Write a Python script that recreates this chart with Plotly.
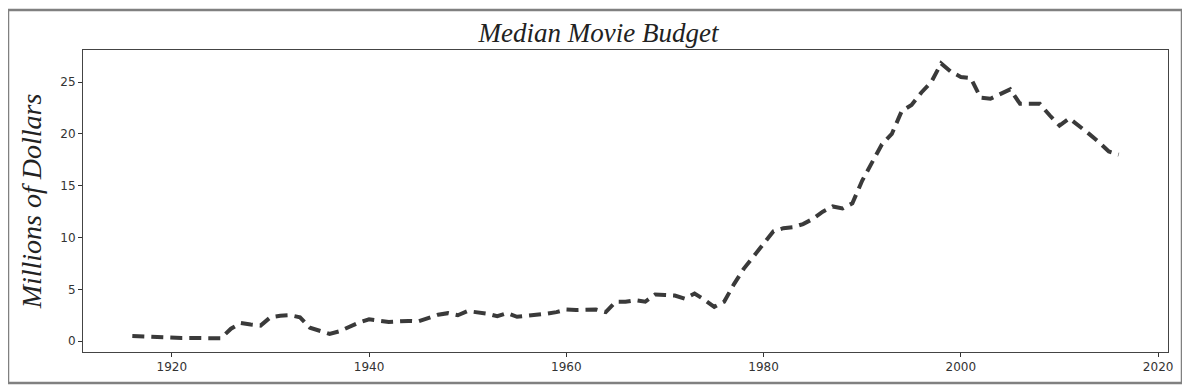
import plotly.graph_objects as go

years = list(range(1916, 2017))
median_budget = [
    0.5, 0.45, 0.38, 0.33, 0.3, 0.3, 0.3, 0.3, 0.3, 0.28,          # 1916-1925
    1.2, 1.75, 1.6, 1.5, 2.3, 2.45, 2.5, 2.3, 1.3, 1.0,            # 1926-1935
    0.7, 0.95, 1.4, 1.8, 2.1, 1.95, 1.85, 1.9, 1.95, 1.9,          # 1936-1945
    2.2, 2.55, 2.7, 2.5, 2.9, 2.8, 2.65, 2.4, 2.7, 2.35,           # 1946-1955
    2.45, 2.5, 2.65, 2.8, 3.05, 3.0, 3.0, 3.05, 2.8, 3.8,          # 1956-1965
    3.8, 3.95, 3.8, 4.5, 4.45, 4.4, 4.1, 4.6, 4.0, 3.3,            # 1966-1975
    3.8, 5.5, 7.0, 8.2, 9.5, 10.6, 10.9, 11.0, 11.3, 11.8,         # 1976-1985
    12.5, 13.0, 12.8, 13.3, 15.5, 17.3, 19.0, 20.0, 22.2, 22.8,    # 1986-1995
    24.0, 25.0, 26.8, 26.0, 25.5, 25.4, 23.5, 23.4, 23.9, 24.3,    # 1996-2005
    22.9, 22.9, 22.9, 21.8, 20.8, 21.5, 20.8, 20.0, 19.2, 18.3,    # 2006-2015
    18.0,                                                          # 2016
]
x_ticks = [1920, 1940, 1960, 1980, 2000, 2020]
y_ticks = [0, 5, 10, 15, 20, 25]

fig = go.Figure()
fig.add_trace(go.Scatter(
    x=years, y=median_budget, mode="lines",
    line=dict(color="#3a3a3a", width=4, dash="12px,7px"),
    showlegend=False, hoverinfo="skip",
))

# page has an 8px body margin; work in page pixels and offset
OFF = 8
W, H = 1190 - OFF, 389 - OFF
L, R, T, B = 83 - OFF, 22, 50 - OFF, 37
pw, ph = W - L - R, H - T - B

def px_x(px):
    return (px - OFF - L) / pw

def px_y(py):
    return (H - B - (py - OFF)) / ph

fig.add_shape(type="rect", xref="paper", yref="paper",
              x0=px_x(8), x1=px_x(1182), y0=px_y(383), y1=px_y(10),
              line=dict(color="#808080", width=2.5), layer="below")

fig.update_layout(
    width=W, height=H,
    margin=dict(l=L, r=R, t=T, b=B),
    paper_bgcolor="white", plot_bgcolor="white",
    title=dict(text="Median Movie Budget", x=px_x(625), xanchor="center",
               y=1 - (33 - OFF) / H, yanchor="middle",
               font=dict(family="Liberation Serif", size=27, color="#222", style="italic")),
    xaxis=dict(range=[1911, 2021], tickvals=x_ticks, ticks="outside", ticklen=4,
               tickcolor="#333", showgrid=False, zeroline=False,
               showline=True, linecolor="#444", linewidth=1, mirror=True,
               tickfont=dict(family="DejaVu Sans", size=12, color="#333")),
    yaxis=dict(range=[-1.05, 28.1], tickvals=y_ticks, ticks="outside", ticklen=4,
               tickcolor="#333", showgrid=False, zeroline=False,
               showline=True, linecolor="#444", linewidth=1, mirror=True,
               tickfont=dict(family="DejaVu Sans", size=12, color="#333"),
               title=dict(text="Millions of Dollars", standoff=10,
                          font=dict(family="Liberation Serif", size=28, color="#222", style="italic"))),
)

fig.write_html("out.html")
